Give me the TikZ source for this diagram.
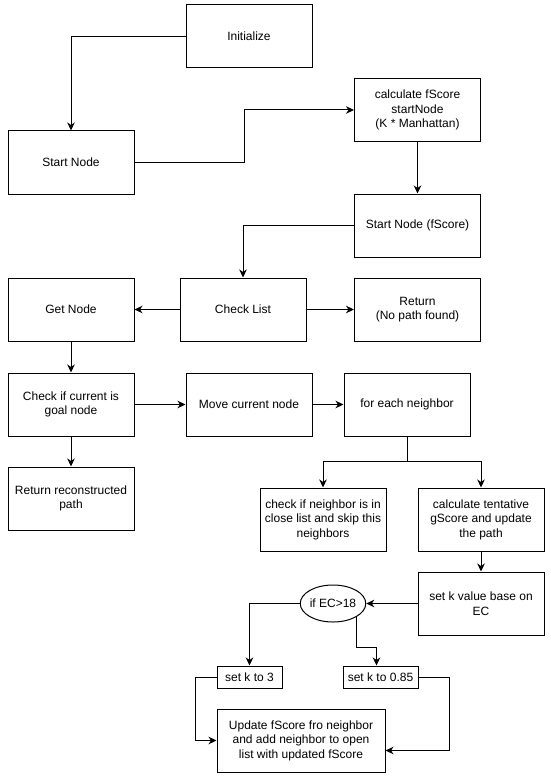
\documentclass[tikz,border=0pt]{standalone}
\usepackage{fontspec}
\setmainfont{Liberation Sans}
\usetikzlibrary{arrows.meta,shapes.geometric,calc}
\tikzset{
  box/.style={draw=black, line width=1pt, minimum width=126pt, minimum height=63pt, align=center, inner sep=2pt, font=\fontsize{12}{14.5}\selectfont},
  small/.style={draw=black, line width=1pt, minimum height=22pt, align=center, inner sep=2pt, font=\fontsize{12}{14.5}\selectfont},
  oval/.style={draw=black, ellipse, line width=1pt, minimum width=64pt, minimum height=37pt, inner sep=0pt, font=\fontsize{12}{14.5}\selectfont},
  arr/.style={draw=black, line width=1pt, -{Stealth[length=8pt,width=7.5pt,inset=2.5pt]}},
  ln/.style={draw=black, line width=1pt}
}
\begin{document}
\begin{tikzpicture}[x=1pt,y=-1pt]
\useasboundingbox[fill=white] (0,0) rectangle (550,778);
\node[box] (init) at (249,36.5) {Initialize};
\node[box] (start) at (71,162.5) {Start Node};
\node[box] (calc) at (417.5,110) {calculate fScore\\startNode\\(K * Manhattan)};
\node[box] (sfs) at (417.5,225.5) {Start Node (fScore)};
\node[box] (check) at (243,309.5) {Check List};
\node[box] (get) at (71,309.5) {Get Node};
\node[box] (ret) at (417.5,309.5) {Return\\(No path found)};
\node[box] (goal) at (71,404.5) {Check if current is\\goal node};
\node[box] (move) at (249,404.5) {Move current node};
\node[box] (each) at (407,404.5) {for each neighbor};
\node[box] (recon) at (71,498.5) {Return reconstructed\\path};
\node[box] (skip) at (323,519.5) {check if neighbor is in\\close list and skip this\\neighbors};
\node[box] (tent) at (481,519.5) {calculate tentative\\gScore and update\\the path};
\node[box] (setk) at (481,603.5) {set k value base on\\EC};
\node[oval] (ec) at (333,603.5) {if EC>18};
\node[small, minimum width=65pt] (k3) at (249.5,677) {set k to 3};
\node[small, minimum width=75pt] (k085) at (380.5,677) {set k to 0.85};
\node[box, minimum width=168pt] (upd) at (301,740.5) {Update fScore fro neighbor\\and add neighbor to open\\list with updated fScore};

\draw[arr] (init.west) -| (start.north);
\draw[arr] (start.east) -- ++(110,0) |- (calc.west);
\draw[arr] (calc) -- (sfs);
\draw[arr] (sfs.west) -| (check.north);
\draw[arr] (check) -- (get);
\draw[arr] (check) -- (ret);
\draw[arr] (get) -- (goal);
\draw[arr] (goal) -- (recon);
\draw[arr] (goal) -- (move);
\draw[arr] (move) -- (each);
\draw[arr] (each.south) -- ++(0,25) -| (skip.north);
\draw[arr] (each.south) -- ++(0,25) -| (tent.north);
\draw[arr] (tent) -- (setk);
\draw[arr] (setk) -- (ec);
\draw[arr] (ec.west) -| (k3.north);
\draw[arr] (ec.south east) -- ++(0,31) -| ($(k085.north)+(-4,0)$);
\draw[arr] (k3.west) -- ++(-21,0) |- (upd.west);
\draw[arr] (k085.east) -- ++(31,0) |- ($(upd.east)+(0,10)$);
\end{tikzpicture}
\end{document}
